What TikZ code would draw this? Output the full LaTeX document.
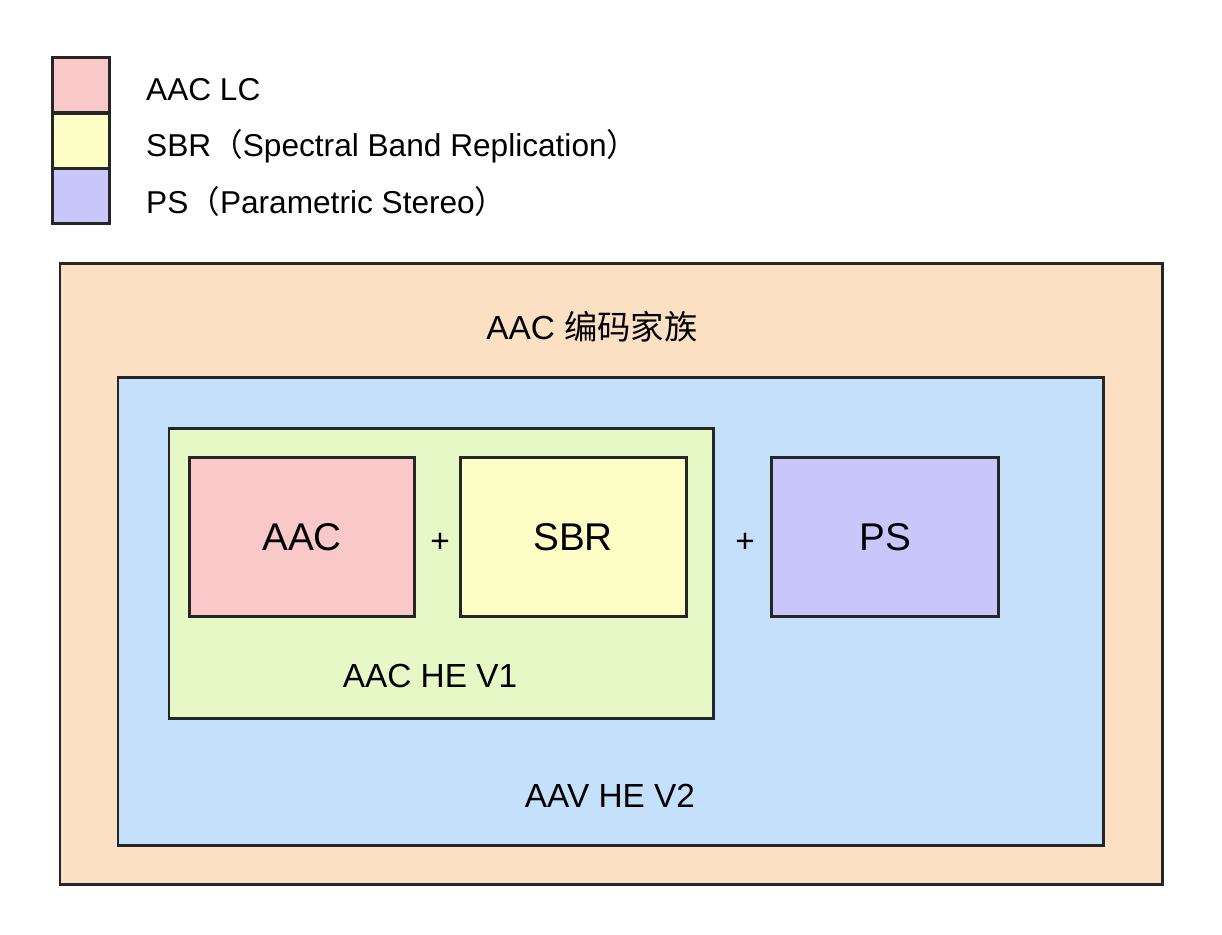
\documentclass[tikz,border=0pt]{standalone}
\usepackage{fontspec}
\setmainfont{Liberation Sans}
\newfontfamily\cjk{Noto Sans CJK SC}
\usetikzlibrary{positioning}
\definecolor{lcpink}{HTML}{F9C9C9}
\definecolor{sbryellow}{HTML}{FDFDC6}
\definecolor{pspurple}{HTML}{C9C6FB}
\definecolor{famorange}{HTML}{FCE0C4}
\definecolor{v2blue}{HTML}{C5E0FB}
\definecolor{v1green}{HTML}{E5F8C6}
\begin{document}
\begin{tikzpicture}[x=0.02cm,y=-0.02cm,
box/.style={rectangle, draw=black!85, line width=1.7pt, inner sep=0pt},
legend/.style={box, minimum width=57*0.02cm, minimum height=55*0.02cm},
legtext/.style={anchor=west, font=\fontsize{18}{21}\selectfont},
label/.style={font=\fontsize{19}{22}\selectfont},
]
\useasboundingbox (0,0) rectangle (1222,934);
%Legend
\node[legend, fill=lcpink]    (leglc)  at (81,85)  {};
\node[legend, fill=sbryellow] (legsbr) at (81,141) {};
\node[legend, fill=pspurple]  (legps)  at (81,196) {};
\node[legtext] at (140,90)  {AAC LC};
\node[legtext] at (140,146) {SBR{\cjk（}Spectral Band Replication{\cjk）}};
\node[legtext] at (140,201) {PS{\cjk（}Parametric Stereo{\cjk）}};

%Boxes
\draw[box, fill=famorange] (60,263) rectangle (1162,884);
\node[label] (family) at (592,327) {AAC {\cjk 编码家族}};
\draw[box, fill=v2blue] (118,377) rectangle (1103,845);
\draw[box, fill=v1green] (169,428) rectangle (713,718);
\node[box, fill=lcpink, minimum width=225*0.02cm, minimum height=159*0.02cm, font=\fontsize{22}{26}\selectfont] (aac) at (302,537) {AAC};
\node[box, fill=sbryellow, minimum width=226*0.02cm, minimum height=159*0.02cm, font=\fontsize{22}{26}\selectfont] (sbr) at (573,537) {SBR};
\node[box, fill=pspurple, minimum width=227*0.02cm, minimum height=159*0.02cm, font=\fontsize{22}{26}\selectfont] (ps) at (885,537) {PS};
\node[label] (plusa) at (440,543) {+};
\node[label] (plusb) at (745,543) {+};
\node[label] (hev1) at (430,676) {AAC HE V1};
\node[label] (hev2) at (610,796) {AAV HE V2};
\end{tikzpicture}
\end{document}
